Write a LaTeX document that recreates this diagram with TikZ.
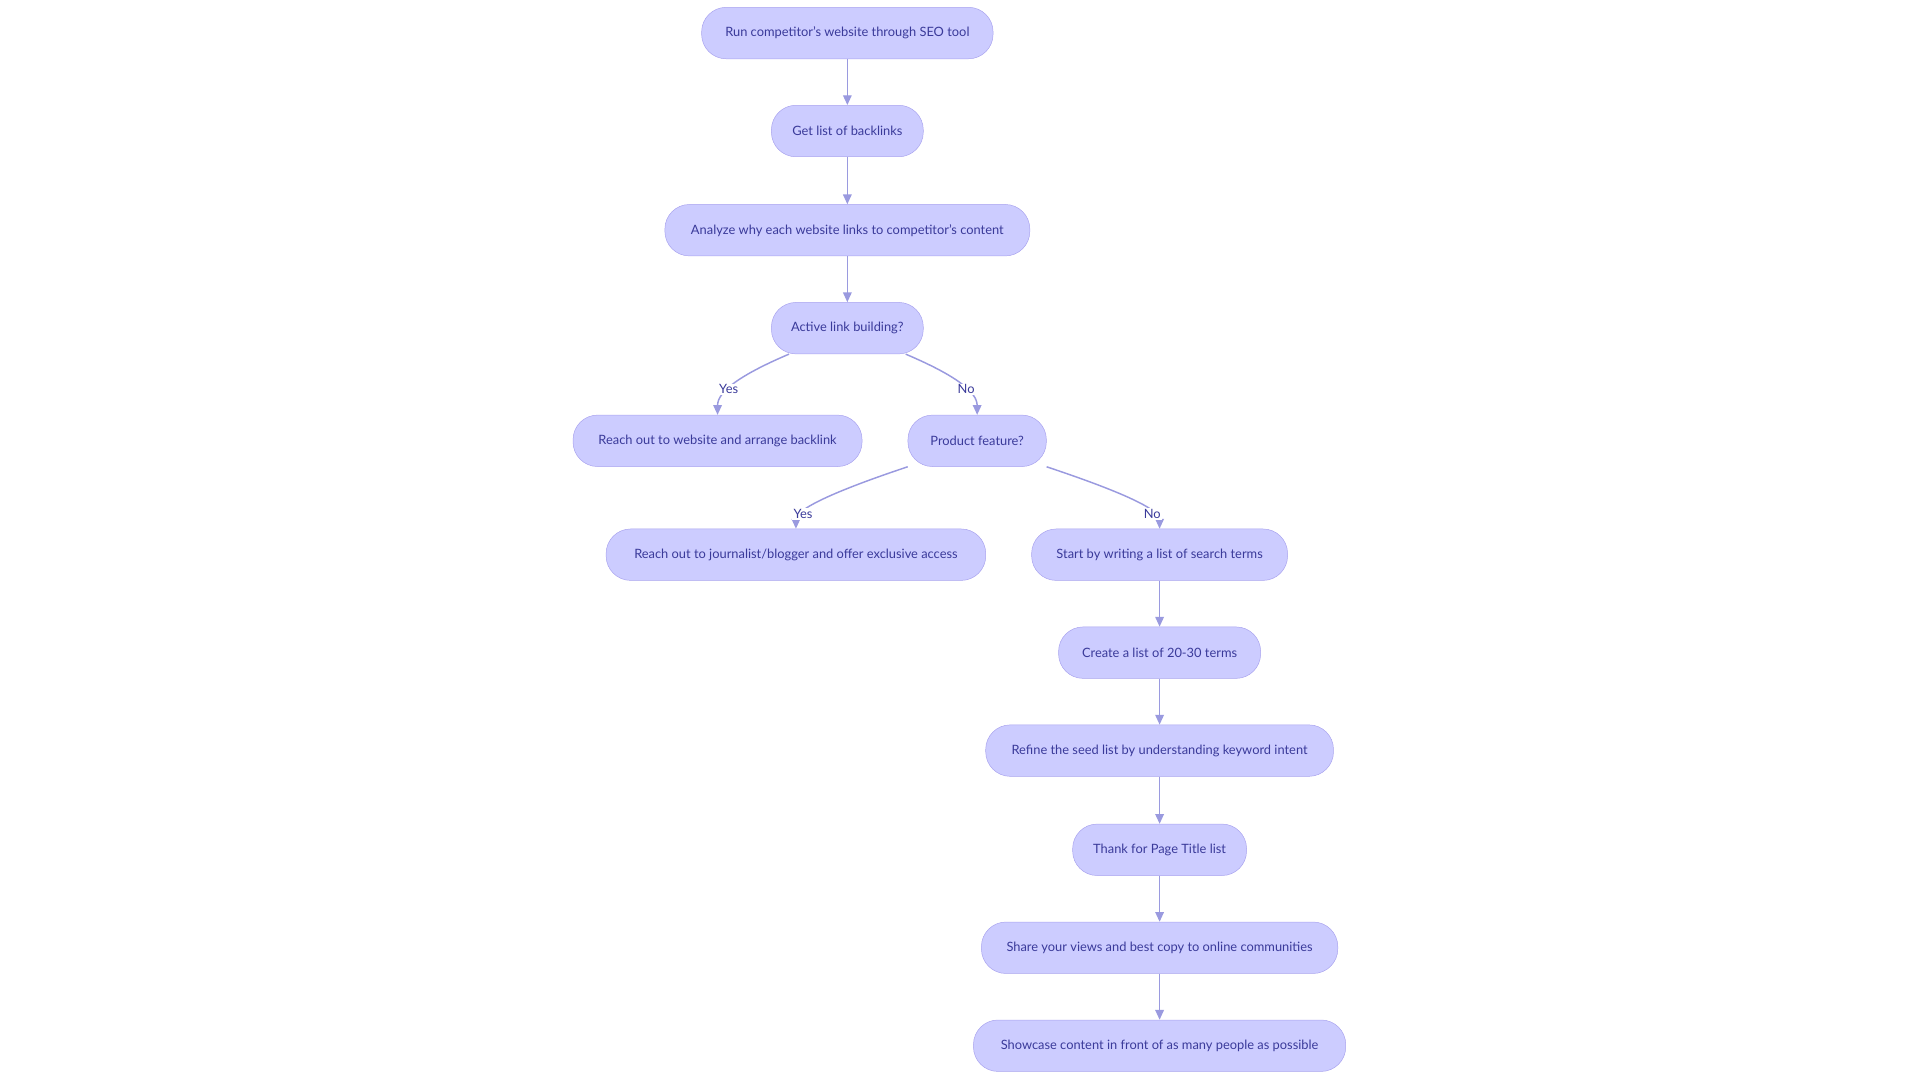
\documentclass[tikz,border=0pt]{standalone}
\usepackage{fontspec}
\setmainfont{Lato}
\usetikzlibrary{arrows.meta}
\definecolor{boxfill}{HTML}{CCCCFF}
\definecolor{boxline}{HTML}{A9A3EE}
\definecolor{boxtext}{HTML}{3A3A9A}
\definecolor{edge}{HTML}{9A9ADF}
\tikzset{
  stepbox/.style={draw=boxline,fill=boxfill,text=boxtext,rounded corners=20pt,minimum height=42pt,inner sep=0pt,font=\fontsize{10.5}{12}\selectfont},
  flow/.style={draw=edge,line width=1.2pt,-{Triangle[width=7pt,length=8pt]}},
  lbl/.style={text=boxtext,fill=white,inner sep=1pt,font=\fontsize{10.5}{12}\selectfont}
}
\begin{document}
\begin{tikzpicture}[x=1pt,y=-1pt]
\useasboundingbox (0,0) rectangle (1568,882);

\node[stepbox,minimum width=238pt] (run) at (692,27) {Run competitor's website through SEO tool};
\node[stepbox,minimum width=124pt] (list) at (692,107) {Get list of backlinks};
\node[stepbox,minimum width=298pt] (why) at (692,188) {Analyze why each website links to competitor's content};
\node[stepbox,minimum width=124pt] (active) at (692,268) {Active link building?};
\node[stepbox,minimum width=236pt] (reach) at (586,360) {Reach out to website and arrange backlink};
\node[stepbox,minimum width=113pt] (feature) at (798,360) {Product feature?};
\node[stepbox,minimum width=310pt] (journo) at (650,453) {Reach out to journalist/blogger and offer exclusive access};
\node[stepbox,minimum width=209pt] (terms) at (947,453) {Start by writing a list of search terms};
\node[stepbox,minimum width=165pt] (create) at (947,533) {Create a list of 20-30 terms};
\node[stepbox,minimum width=284pt] (refine) at (947,613) {Refine the seed list by understanding keyword intent};
\node[stepbox,minimum width=142pt] (thank) at (947,694) {Thank for Page Title list};
\node[stepbox,minimum width=291pt] (share) at (947,774) {Share your views and best copy to online communities};
\node[stepbox,minimum width=304pt] (show) at (947,854) {Showcase content in front of as many people as possible};

\draw[flow] (run) -- (list);
\draw[flow] (list) -- (why);
\draw[flow] (why) -- (active);
\draw[flow] (active.204) .. controls +(-40,17) and +(0,-19) .. node[lbl,pos=.6]{Yes} (reach.north);
\draw[flow] (active.336) .. controls +(40,17) and +(0,-19) .. node[lbl,pos=.6]{No} (feature.north);
\draw[flow] (feature.south west) .. controls +(-60,20) and +(0,-16) .. node[lbl,pos=.75]{Yes} (journo.north);
\draw[flow] (feature.south east) .. controls +(60,20) and +(0,-16) .. node[lbl,pos=.75]{No} (terms.north);
\draw[flow] (terms) -- (create);
\draw[flow] (create) -- (refine);
\draw[flow] (refine) -- (thank);
\draw[flow] (thank) -- (share);
\draw[flow] (share) -- (show);

\end{tikzpicture}
\end{document}
